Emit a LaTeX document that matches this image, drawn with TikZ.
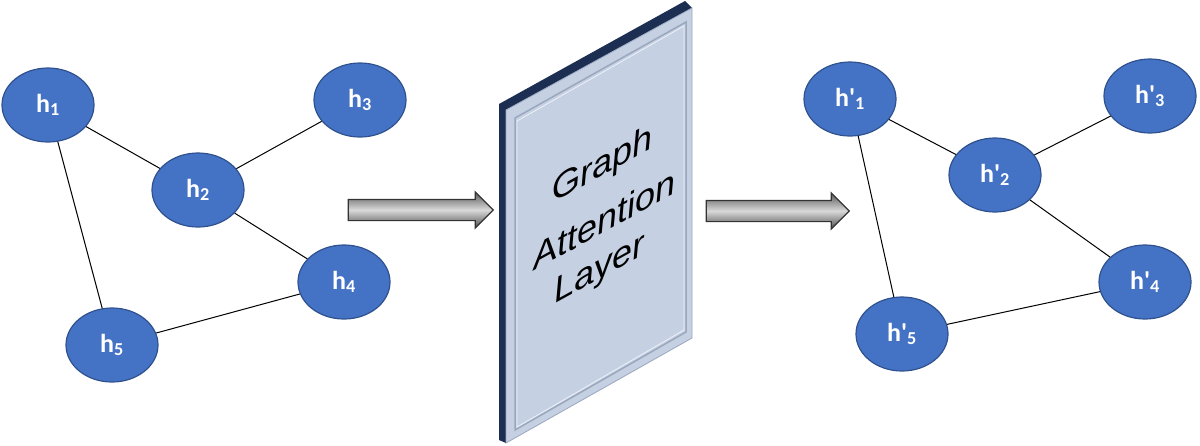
\documentclass[tikz,border=0pt]{standalone}
\usepackage{fontspec}
\setmainfont{Liberation Sans}
\newfontfamily\nodefont{Carlito}
\newfontfamily\panelfont{Liberation Sans Italic}[FakeSlant=0.42, FakeStretch=1.303]
\usetikzlibrary{shapes.geometric,shapes.arrows}
\definecolor{nodeblue}{HTML}{4472C4}
\definecolor{nodeedge}{HTML}{2F528F}
\definecolor{panelface}{HTML}{C5D0E3}
\definecolor{paneldark}{HTML}{1C2F52}
\definecolor{panelline}{HTML}{9AA7BD}
\tikzset{
  gnode/.style={ellipse, draw=nodeedge, fill=nodeblue, line width=1.2pt,
    minimum width=92pt, minimum height=74pt, inner sep=0pt, text=white,
    font=\nodefont\bfseries\fontsize{26}{26}\selectfont},
  gedge/.style={draw=black, line width=1pt},
  blockarrow/.style={single arrow, draw=black!80, line width=1.2pt,
    inner xsep=0pt, inner ysep=10pt, single arrow head extend=7.5pt,
    single arrow tip angle=90,
    top color=black!65, bottom color=black!70, middle color=black!15},
  paneltext/.style={rotate=28.8, inner sep=0pt, font=\panelfont\fontsize{31.5}{31.5}\selectfont}
}
\begin{document}
\begin{tikzpicture}[x=1pt,y=-1pt]
\useasboundingbox (0,0) rectangle (1200,445);
% left graph
\node[gnode] (h1) at (48,105) {h\textsubscript{1}};
\node[gnode] (h2) at (198,190) {h\textsubscript{2}};
\node[gnode] (h3) at (360,100) {h\textsubscript{3}};
\node[gnode] (h4) at (344,282) {h\textsubscript{4}};
\node[gnode] (h5) at (112,345) {h\textsubscript{5}};
\draw[gedge] (h1) -- (h2);
\draw[gedge] (h1) -- (h5);
\draw[gedge] (h2) -- (h3);
\draw[gedge] (h2) -- (h4);
\draw[gedge] (h4) -- (h5);
% right graph
\node[gnode] (g1) at (850,99) {h\textquotesingle\textsubscript{1}};
\node[gnode] (g2) at (995,175) {h\textquotesingle\textsubscript{2}};
\node[gnode] (g3) at (1150,96) {h\textquotesingle\textsubscript{3}};
\node[gnode] (g4) at (1145,282) {h\textquotesingle\textsubscript{4}};
\node[gnode] (g5) at (902,334) {h\textquotesingle\textsubscript{5}};
\draw[gedge] (g1) -- (g2);
\draw[gedge] (g1) -- (g5);
\draw[gedge] (g2) -- (g3);
\draw[gedge] (g2) -- (g4);
\draw[gedge] (g4) -- (g5);
% arrows
\node[blockarrow, minimum height=145pt] (a1) at (415.5,210) {};
\node[blockarrow, minimum height=143pt] (a2) at (772.5,211) {};
% panel
\fill[paneldark] (499,104) -- (685,1) -- (692,8) -- (506,110) -- (506,443) -- (499,440) -- cycle;
\fill[panelface, draw=panelline, line width=0.8pt] (506,110) -- (692,8) -- (692,338) -- (506,443) -- cycle;
\draw[panelline, line width=1.5pt] (515,118) -- (686,22) -- (686,332) -- (515,430) -- cycle;
\draw[white!70!panelface, line width=0.8pt] (517,121) -- (684,26) -- (684,330) -- (517,427) -- cycle;
\node[paneltext] (t1) at (600,168) {Graph};
\node[paneltext] (t2) at (600,222) {Attention};
\node[paneltext] (t3) at (597,272) {Layer};
\end{tikzpicture}
\end{document}
